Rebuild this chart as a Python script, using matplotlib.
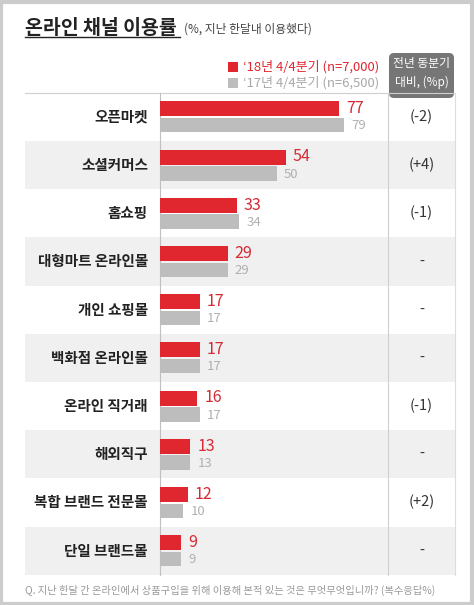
import matplotlib
matplotlib.use('Agg')
import matplotlib.pyplot as plt
from matplotlib.patches import Rectangle, FancyBboxPatch
import numpy as np

plt.rcParams['font.family'] = ['Noto Sans CJK KR', 'DejaVu Sans']

# data
channels = ['오픈마켓', '소셜커머스', '홈쇼핑', '대형마트 온라인몰', '개인 쇼핑몰',
            '백화점 온라인몰', '온라인 직거래', '해외직구', '복합 브랜드 전문몰', '단일 브랜드몰']
y2018 = [77, 54, 33, 29, 17, 17, 16, 13, 12, 9]
y2017 = [79, 50, 34, 29, 17, 17, 17, 13, 10, 9]
diff = ['(-2)', '(+4)', '(-1)', '-', '-', '-', '(-1)', '-', '(+2)', '-']

RED = '#e0262f'
GRAY = '#bdbdbd'

W, H = 474, 605
fig = plt.figure(figsize=(W / 100, H / 100), dpi=100)

# background axes in pixel coords
bg = fig.add_axes([0, 0, 1, 1])
bg.set_xlim(0, W)
bg.set_ylim(H, 0)
bg.axis('off')

row_top, row_h = 92.7, 48.2
n = len(channels)

# outer frame
bg.add_patch(Rectangle((1.5, 1.5), W - 3, H - 3, fill=False, ec='#cccccc', lw=3))

# alternating shading
for i in range(n):
    if i % 2 == 1:
        bg.add_patch(Rectangle((25, row_top + i * row_h), 430, row_h, fc='#f0f0f0', ec='none'))

# lines
bg.plot([25, 455], [row_top, row_top], color='#cfcfcf', lw=0.8)
bg.plot([388, 388], [row_top, row_top + n * row_h], color='#cfcfcf', lw=0.8)
bg.plot([455, 455], [row_top, row_top + n * row_h], color='#dddddd', lw=0.8)
bg.plot([160, 160], [row_top, row_top + n * row_h], color='#c0c0c0', lw=0.8)

# title
bg.text(25, 34, '온라인 채널 이용률', fontsize=14, fontweight='bold', color='#222222', va='baseline')
bg.plot([25, 180], [37, 37], color='#222222', lw=1)
bg.text(184, 33, '(%, 지난 한달내 이용했다)', fontsize=8.5, color='#444444', va='baseline')

# legend
bg.add_patch(Rectangle((228, 62), 10, 10, fc=RED, ec='none'))
bg.text(243, 67, '\u201818년 4/4분기 (n=7,000)', fontsize=9.4, color=RED, va='center')
bg.add_patch(Rectangle((228, 78), 10, 10, fc=GRAY, ec='none'))
bg.text(243, 83, '\u201817년 4/4분기 (n=6,500)', fontsize=9.4, color='#a8a8a8', va='center')

# header box
bg.add_patch(FancyBboxPatch((389, 53), 65, 45, boxstyle='round,pad=0,rounding_size=5',
                            fc='#767676', ec='none'))
bg.add_patch(Rectangle((389, 80), 65, row_top - 80, fc='#767676', ec='none'))
bg.text(421.5, 63, '전년 동분기', fontsize=8.5, color='white', ha='center', va='center')
bg.text(421.5, 82, '대비, (%p)', fontsize=8.5, color='white', ha='center', va='center')

# row labels and diff column
for i in range(n):
    yc = row_top + (i + 0.5) * row_h
    bg.text(148, yc, channels[i], fontsize=10.5, fontweight='bold', color='#222222',
            ha='right', va='center')
    bg.text(421.5, yc, diff[i], fontsize=10.5, color='#333333', ha='center', va='center')

# footnote
bg.text(25, 590, 'Q. 지난 한달 간 온라인에서 상품구입을 위해 이용해 본적 있는 것은 무엇무엇입니까? (복수응답%)',
        fontsize=7.4, color='#999999', va='center')

# bar axes
scale = 2.33
ax = fig.add_axes([160 / W, (H - (row_top + n * row_h)) / H, 228 / W, n * row_h / H])
ax.set_xlim(0, 228 / scale)
ax.set_ylim(n - 0.5, -0.5)
ax.axis('off')
ax.patch.set_alpha(0)

y = np.arange(n)
ax.barh(y - 0.165, y2018, height=0.31, color=RED)
ax.barh(y + 0.175, y2017, height=0.30, color=GRAY)
off = 7 / scale
for i in range(n):
    ax.text(y2018[i] + off, y[i] - 0.17, str(y2018[i]), fontsize=11.5, color='#d42b35',
            fontweight='medium', va='center', ha='left')
    ax.text(y2017[i] + off, y[i] + 0.19, str(y2017[i]), fontsize=9.5, color='#b0b0b0',
            va='center', ha='left')

fig.savefig('out.png', dpi=100)
